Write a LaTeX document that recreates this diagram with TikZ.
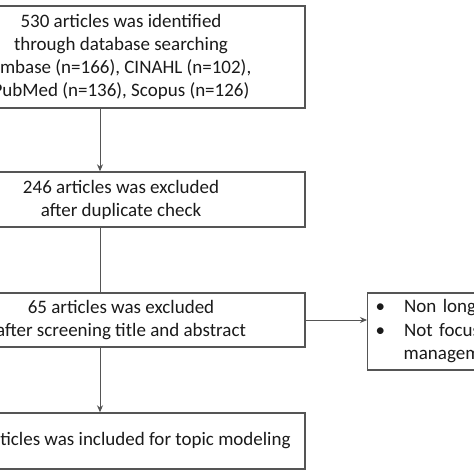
\documentclass[tikz,border=0pt]{standalone}
\usepackage{fontspec}
\setmainfont{Carlito}
\usetikzlibrary{arrows.meta}
\definecolor{edge}{HTML}{555555}
\definecolor{ink}{HTML}{1A1A1A}
\begin{document}
\begin{tikzpicture}[x=1pt,y=-1pt,
  box/.style={draw=edge,line width=1.4pt,text=ink,align=center,inner sep=0pt,
    font=\fontsize{19}{23}\selectfont,minimum width=368pt},
  sidebox/.style={draw=edge,line width=1.4pt,text=ink,align=left,inner sep=0pt,
    font=\fontsize{19}{23.5}\selectfont,text width=250pt,minimum height=77pt,anchor=west},
  conn/.style={draw=edge,line width=1pt},
  arr/.style={conn,-{Stealth[length=7pt,width=6pt]}}]
\useasboundingbox (0,0) rectangle (474,474);
\clip (0,0) rectangle (474,474);
\fill[white] (0,0) rectangle (474,474);
\node[box,minimum height=102pt] (b1) at (121,57) {530 articles was identified\\through database searching\\Embase (n=166), CINAHL (n=102),\\PubMed (n=136), Scopus (n=126)};
\node[box,minimum height=55pt] (b2) at (121,199.5) {246 articles was excluded\\after duplicate check};
\node[box,minimum height=54pt] (b3) at (121,320) {65 articles was excluded\\after screening title and abstract};
\node[box,minimum height=56pt] (b4) at (121,441) {219 articles was included for topic modeling};
\node[sidebox] (r) at (367,331.5) {\hspace{8pt}\textbullet\hspace{19pt}Non longitudinal studies\\\hspace{8pt}\textbullet\hspace{19pt}Not focused on disease\\\hspace{36pt}management};
\coordinate (ax) at (100,0);
\draw[arr] (b1.south -| ax) -- (b2.north -| ax);
\draw[conn] (b2.south -| ax) -- (b3.north -| ax);
\draw[arr] (b3.south -| ax) -- (b4.north -| ax);
\draw[arr] (b3.east) -- (b3.east -| r.west);
\end{tikzpicture}
\end{document}
